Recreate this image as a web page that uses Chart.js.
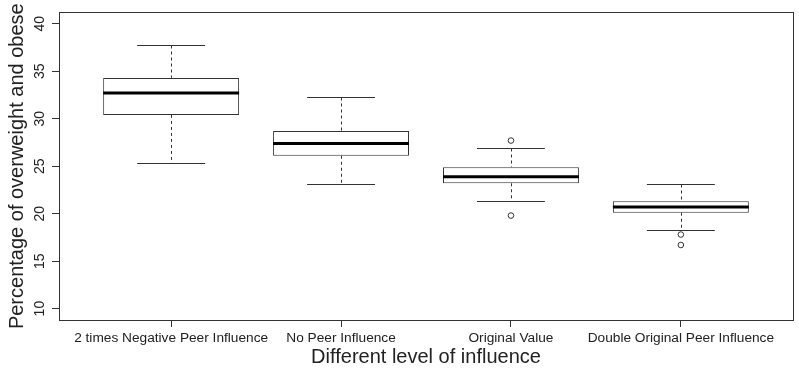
<!DOCTYPE html>
<html>
<head>
<meta charset="utf-8">
<script src="https://cdn.jsdelivr.net/npm/chart.js@4.4.0/dist/chart.umd.min.js"></script>
<style>
  html, body { margin: 0; padding: 0; background: #fff; }
  #wrap { width: 799px; height: 372px; }
</style>
</head>
<body>
<div id="wrap"><canvas id="influence"></canvas></div>
<script>
let groups = [
    '2 times Negative Peer Influence',
    'No Peer Influence',
    'Original Value',
    'Double Original Peer Influence'
];

let lowWhisker = [25.3, 23.1, 21.3, 18.3];
let lowerQuartile = [30.4, 26.1, 23.2, 20.1];
let medians = [32.7, 27.4, 23.9, 20.7];
let upperQuartile = [34.3, 28.7, 24.9, 21.3];
let highWhisker = [37.8, 32.3, 26.9, 23.1];

// outliers: which group (1-based) and value
let outlierGroup = [3, 3, 4, 4];
let outlierValue = [27.7, 19.8, 17.8, 16.7];

let yTicks = [10, 15, 20, 25, 30, 35, 40];

const lineColor = '#333';
const font = "'Liberation Sans', Arial, Helvetica, sans-serif";

// whiskers under the boxes, medians and frame on top
const boxLines = {
    id: 'boxLines',
    beforeDatasetsDraw(chart) {
        const {ctx, scales: {x, y}} = chart;
        ctx.save();
        ctx.strokeStyle = lineColor;
        ctx.lineWidth = 1;
        groups.forEach((g, i) => {
            const cx = Math.round(x.getPixelForValue(i + 1)) + 0.5;
            const capL = x.getPixelForValue(i + 1 - 0.2);
            const capR = x.getPixelForValue(i + 1 + 0.2);
            const yHi = Math.round(y.getPixelForValue(highWhisker[i])) + 0.5;
            const yLo = Math.round(y.getPixelForValue(lowWhisker[i])) + 0.5;
            ctx.setLineDash([3, 3]);
            ctx.beginPath();
            ctx.moveTo(cx, yHi);
            ctx.lineTo(cx, y.getPixelForValue(upperQuartile[i]));
            ctx.moveTo(cx, y.getPixelForValue(lowerQuartile[i]));
            ctx.lineTo(cx, yLo);
            ctx.stroke();
            ctx.setLineDash([]);
            ctx.beginPath();
            ctx.moveTo(capL, yHi);
            ctx.lineTo(capR, yHi);
            ctx.moveTo(capL, yLo);
            ctx.lineTo(capR, yLo);
            ctx.stroke();
        });
        ctx.restore();
    },
    afterDatasetsDraw(chart) {
        const {ctx, chartArea, scales: {x, y}} = chart;
        ctx.save();
        ctx.strokeStyle = '#000';
        ctx.lineWidth = 3;
        groups.forEach((g, i) => {
            const ym = y.getPixelForValue(medians[i]);
            ctx.beginPath();
            ctx.moveTo(x.getPixelForValue(i + 1 - 0.4), ym);
            ctx.lineTo(x.getPixelForValue(i + 1 + 0.4), ym);
            ctx.stroke();
        });
        ctx.strokeStyle = lineColor;
        ctx.lineWidth = 1;
        ctx.strokeRect(Math.round(chartArea.left) + 0.5, Math.round(chartArea.top) + 0.5,
            Math.round(chartArea.width), Math.round(chartArea.height));
        ctx.restore();
    }
};

const boxData = groups.map((g, i) => ({x: i + 1, y: [lowerQuartile[i], upperQuartile[i]]}));
const outlierData = outlierGroup.map((g, i) => ({x: g, y: outlierValue[i]}));

const config = {
    type: 'bar',
    data: {
        datasets: [{
            type: 'bar',
            data: boxData,
            backgroundColor: '#fff',
            borderColor: lineColor,
            borderWidth: 1,
            borderSkipped: false,
            categoryPercentage: 1,
            barPercentage: 0.8
        }, {
            type: 'scatter',
            data: outlierData,
            pointStyle: 'circle',
            pointRadius: 2.8,
            pointBorderWidth: 1,
            borderColor: lineColor,
            backgroundColor: 'rgba(0,0,0,0)'
        }]
    },
    options: {
        responsive: true,
        maintainAspectRatio: false,
        animation: false,
        layout: {padding: {top: 12, right: 6, left: 0, bottom: 0}},
        plugins: {
            legend: {display: false},
            tooltip: {enabled: false}
        },
        scales: {
            x: {
                type: 'linear',
                min: 0.34,
                max: 4.66,
                offset: false,
                afterBuildTicks: s => { s.ticks = groups.map((g, i) => ({value: i + 1})); },
                afterFit: s => { s.height = 52; },
                border: {display: false},
                grid: {offset: false, drawOnChartArea: false, drawTicks: true, tickLength: 7, color: lineColor},
                ticks: {
                    autoSkip: false,
                    minRotation: 0,
                    maxRotation: 0,
                    padding: 3,
                    color: '#222',
                    font: {family: font, size: 13.7},
                    callback: v => groups[v - 1]
                },
                title: {
                    display: true,
                    text: 'Different level of influence',
                    color: '#222',
                    font: {family: font, size: 20},
                    padding: {top: 0, bottom: 3}
                }
            },
            y: {
                type: 'linear',
                min: 8.8,
                max: 41.2,
                afterBuildTicks: s => { s.ticks = yTicks.map(v => ({value: v})); },
                afterFit: s => { s.width = 59; },
                border: {display: false},
                grid: {drawOnChartArea: false, drawTicks: true, tickLength: 7, color: lineColor},
                ticks: {
                    minRotation: 90,
                    maxRotation: 90,
                    crossAlign: 'center',
                    padding: 4,
                    color: '#222',
                    font: {family: font, size: 14}
                },
                title: {
                    display: true,
                    text: 'Percentage of overweight and obese',
                    color: '#222',
                    font: {family: font, size: 20},
                    padding: {top: 5, bottom: 0}
                }
            }
        }
    },
    plugins: [boxLines]
};

new Chart(document.getElementById('influence'), config);
</script>
</body>
</html>
